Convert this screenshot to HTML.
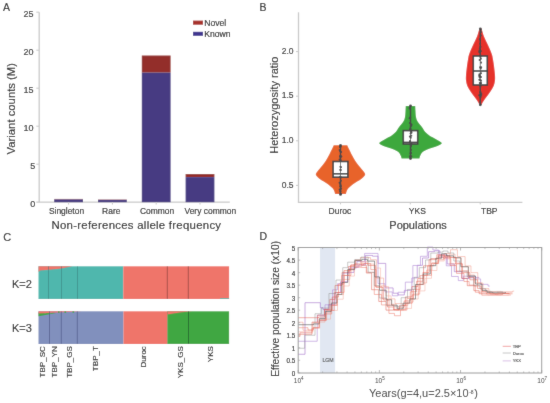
<!DOCTYPE html>
<html><head><meta charset="utf-8"><style>
html,body{margin:0;padding:0;background:#fff;width:550px;height:403px;overflow:hidden}
svg{display:block;font-family:"Liberation Sans", sans-serif}
</style></head><body>
<svg width="550" height="403" viewBox="0 0 550 403">
<defs><filter id="soft" x="0" y="0" width="550" height="403" filterUnits="userSpaceOnUse"><feConvolveMatrix order="3" kernelMatrix="0.015 0.06 0.015 0.06 0.7 0.06 0.015 0.06 0.015" edgeMode="duplicate" preserveAlpha="false"/></filter></defs>
<g filter="url(#soft)">
<rect width="550" height="403" fill="#fff"/>
<text x="3" y="11.2" font-size="10.5" text-anchor="start" fill="#141414" stroke="#141414" stroke-width="0.12" >A</text>
<line x1="39.2" y1="12.2" x2="39.2" y2="202.2" stroke="#c9c9c9" stroke-width="1.3" />
<line x1="36.3" y1="202.2" x2="229.8" y2="202.2" stroke="#c9c9c9" stroke-width="1.3" />
<line x1="36.3" y1="12.2" x2="39.2" y2="12.2" stroke="#c9c9c9" stroke-width="1" />
<line x1="36.3" y1="50.2" x2="39.2" y2="50.2" stroke="#c9c9c9" stroke-width="1" />
<line x1="36.3" y1="88.2" x2="39.2" y2="88.2" stroke="#c9c9c9" stroke-width="1" />
<line x1="36.3" y1="126.2" x2="39.2" y2="126.2" stroke="#c9c9c9" stroke-width="1" />
<line x1="36.3" y1="164.2" x2="39.2" y2="164.2" stroke="#c9c9c9" stroke-width="1" />
<text x="33.6" y="16.6" font-size="9" text-anchor="end" fill="#141414" stroke="#141414" stroke-width="0.12" >25</text>
<text x="33.6" y="54.7" font-size="9" text-anchor="end" fill="#141414" stroke="#141414" stroke-width="0.12" >20</text>
<text x="33.6" y="92.7" font-size="9" text-anchor="end" fill="#141414" stroke="#141414" stroke-width="0.12" >15</text>
<text x="33.6" y="130.8" font-size="9" text-anchor="end" fill="#141414" stroke="#141414" stroke-width="0.12" >10</text>
<text x="35.3" y="168.8" font-size="9" text-anchor="end" fill="#141414" stroke="#141414" stroke-width="0.12" >5</text>
<text x="35.3" y="207.4" font-size="9" text-anchor="end" fill="#141414" stroke="#141414" stroke-width="0.12" >0</text>
<rect x="54.199999999999996" y="198.932" width="28.8" height="0.5320000000000107" fill="#932d2a" />
<rect x="54.199999999999996" y="199.464" width="28.8" height="2.73599999999999" fill="#463a82" />
<line x1="68.6" y1="202.2" x2="68.6" y2="204.6" stroke="#c9c9c9" stroke-width="1" />
<rect x="98.0" y="199.54" width="28.8" height="0.30400000000000205" fill="#932d2a" />
<rect x="98.0" y="199.844" width="28.8" height="2.3559999999999945" fill="#463a82" />
<line x1="112.4" y1="202.2" x2="112.4" y2="204.6" stroke="#c9c9c9" stroke-width="1" />
<rect x="141.79999999999998" y="55.51999999999998" width="28.8" height="17.099999999999994" fill="#932d2a" />
<rect x="141.79999999999998" y="72.61999999999998" width="28.8" height="129.58" fill="#463a82" />
<line x1="156.2" y1="202.2" x2="156.2" y2="204.6" stroke="#c9c9c9" stroke-width="1" />
<rect x="185.6" y="174.07999999999998" width="28.8" height="3.0400000000000205" fill="#932d2a" />
<rect x="185.6" y="177.12" width="28.8" height="25.079999999999984" fill="#463a82" />
<line x1="200.0" y1="202.2" x2="200.0" y2="204.6" stroke="#c9c9c9" stroke-width="1" />
<text x="48.9" y="213.5" font-size="8.45" text-anchor="start" fill="#141414" stroke="#141414" stroke-width="0.12" >Singleton</text>
<text x="102.1" y="213.5" font-size="8.45" text-anchor="start" fill="#141414" stroke="#141414" stroke-width="0.12" >Rare</text>
<text x="140.0" y="213.5" font-size="8.45" text-anchor="start" fill="#141414" stroke="#141414" stroke-width="0.12" >Common</text>
<text x="184.5" y="213.5" font-size="8.45" text-anchor="start" fill="#141414" stroke="#141414" stroke-width="0.12" >Very common</text>
<text x="51.5" y="229.1" font-size="11.4" text-anchor="start" fill="#141414" stroke="#141414" stroke-width="0.12" letter-spacing="0.27">Non-references allele frequency</text>
<text x="14.7" y="108.7" font-size="11.3" text-anchor="middle" fill="#141414" stroke="#141414" stroke-width="0.12" transform="rotate(-90 14.7 108.7)">Variant counts (M)</text>
<rect x="193" y="20.6" width="10" height="4.1" fill="#a8302c" />
<rect x="193" y="31.8" width="10" height="4.0" fill="#3f3590" />
<text x="204.3" y="25.7" font-size="8.6" text-anchor="start" fill="#141414" stroke="#141414" stroke-width="0.12" >Novel</text>
<text x="204.3" y="36.6" font-size="8.6" text-anchor="start" fill="#141414" stroke="#141414" stroke-width="0.12" >Known</text>
<text x="259.6" y="11.3" font-size="10.5" text-anchor="start" fill="#141414" stroke="#141414" stroke-width="0.12" >B</text>
<line x1="298.5" y1="12.3" x2="298.5" y2="202.3" stroke="#c9c9c9" stroke-width="1.3" />
<line x1="297.85" y1="202.3" x2="522.4" y2="202.3" stroke="#c9c9c9" stroke-width="1.3" />
<line x1="296" y1="51.6" x2="298.5" y2="51.6" stroke="#c9c9c9" stroke-width="1" />
<text x="293.6" y="53.800000000000004" font-size="8.5" text-anchor="end" fill="#141414" stroke="#141414" stroke-width="0.12" >2.0</text>
<line x1="296" y1="96.2" x2="298.5" y2="96.2" stroke="#c9c9c9" stroke-width="1" />
<text x="293.6" y="98.4" font-size="8.5" text-anchor="end" fill="#141414" stroke="#141414" stroke-width="0.12" >1.5</text>
<line x1="296" y1="140.8" x2="298.5" y2="140.8" stroke="#c9c9c9" stroke-width="1" />
<text x="293.6" y="143.0" font-size="8.5" text-anchor="end" fill="#141414" stroke="#141414" stroke-width="0.12" >1.0</text>
<line x1="296" y1="185.4" x2="298.5" y2="185.4" stroke="#c9c9c9" stroke-width="1" />
<text x="293.6" y="187.6" font-size="8.5" text-anchor="end" fill="#141414" stroke="#141414" stroke-width="0.12" >0.5</text>
<line x1="340.5" y1="202.3" x2="340.5" y2="204.4" stroke="#c9c9c9" stroke-width="1" />
<line x1="410.3" y1="202.3" x2="410.3" y2="204.4" stroke="#c9c9c9" stroke-width="1" />
<line x1="480.2" y1="202.3" x2="480.2" y2="204.4" stroke="#c9c9c9" stroke-width="1" />
<text x="328.6" y="214.1" font-size="8.5" text-anchor="start" fill="#141414" stroke="#141414" stroke-width="0.12" >Duroc</text>
<text x="408.8" y="214.1" font-size="8.5" text-anchor="start" fill="#141414" stroke="#141414" stroke-width="0.12" >YKS</text>
<text x="481.0" y="214.1" font-size="8.5" text-anchor="start" fill="#141414" stroke="#141414" stroke-width="0.12" >TBP</text>
<text x="389.3" y="229.2" font-size="11" text-anchor="start" fill="#141414" stroke="#141414" stroke-width="0.12" >Populations</text>
<text x="278.3" y="105.2" font-size="11" text-anchor="middle" fill="#141414" stroke="#141414" stroke-width="0.12" transform="rotate(-90 278.3 105.2)">Heterozygosity ratio</text>
<path d="M 333.80 145.20 C 333.50 145.82 332.80 147.28 332.00 148.90 C 331.20 150.52 330.07 152.90 329.00 154.90 C 327.93 156.90 326.90 158.92 325.60 160.90 C 324.30 162.88 322.55 165.07 321.20 166.80 C 319.85 168.53 318.38 169.93 317.50 171.30 C 316.62 172.67 315.42 173.63 315.90 175.00 C 316.38 176.37 318.65 178.13 320.40 179.50 C 322.15 180.87 324.47 181.83 326.40 183.20 C 328.33 184.57 330.72 186.45 332.00 187.70 C 333.28 188.95 333.58 189.65 334.10 190.70 C 334.62 191.75 334.93 193.45 335.10 194.00 L  345.90 194.00 C 346.07 193.45 346.38 191.75 346.90 190.70 C 347.42 189.65 347.72 188.95 349.00 187.70 C 350.28 186.45 352.67 184.57 354.60 183.20 C 356.53 181.83 358.85 180.87 360.60 179.50 C 362.35 178.13 364.62 176.37 365.10 175.00 C 365.58 173.63 364.38 172.67 363.50 171.30 C 362.62 169.93 361.15 168.53 359.80 166.80 C 358.45 165.07 356.70 162.88 355.40 160.90 C 354.10 158.92 353.07 156.90 352.00 154.90 C 350.93 152.90 349.80 150.52 349.00 148.90 C 348.20 147.28 347.50 145.82 347.20 145.20 Z" fill="#e8632b"/>
<line x1="340.5" y1="145.4" x2="340.5" y2="161.5" stroke="#444" stroke-width="1.4" />
<line x1="340.5" y1="177.2" x2="340.5" y2="194.4" stroke="#444" stroke-width="1.4" />
<rect x="333.1" y="161.5" width="14.8" height="15.699999999999989" fill="#fff" stroke="#444" stroke-width="1.6"/>
<line x1="333.1" y1="173.8" x2="347.9" y2="173.8" stroke="#444" stroke-width="1.6" />
<line x1="340.5" y1="161.5" x2="340.5" y2="177.2" stroke="#555" stroke-width="0.8" />
<circle cx="341.13" cy="151.98" r="1.05" fill="#4a4a4a"/>
<circle cx="340.06" cy="182.82" r="1.05" fill="#4a4a4a"/>
<circle cx="340.41" cy="169.68" r="1.05" fill="#4a4a4a"/>
<circle cx="341.02" cy="177.33" r="1.05" fill="#4a4a4a"/>
<circle cx="339.65" cy="150.00" r="1.05" fill="#4a4a4a"/>
<circle cx="340.38" cy="186.35" r="1.05" fill="#4a4a4a"/>
<circle cx="339.60" cy="182.75" r="1.05" fill="#4a4a4a"/>
<circle cx="340.90" cy="167.22" r="1.05" fill="#4a4a4a"/>
<circle cx="341.30" cy="156.61" r="1.05" fill="#4a4a4a"/>
<circle cx="339.66" cy="189.57" r="1.05" fill="#4a4a4a"/>
<circle cx="340.57" cy="146.65" r="1.05" fill="#4a4a4a"/>
<circle cx="340.29" cy="191.42" r="1.05" fill="#4a4a4a"/>
<circle cx="340.36" cy="156.01" r="1.05" fill="#4a4a4a"/>
<circle cx="340.00" cy="146.82" r="1.05" fill="#4a4a4a"/>
<circle cx="340.49" cy="166.86" r="1.05" fill="#4a4a4a"/>
<circle cx="340.02" cy="156.82" r="1.05" fill="#4a4a4a"/>
<circle cx="340.43" cy="156.12" r="1.05" fill="#4a4a4a"/>
<circle cx="339.64" cy="159.60" r="1.05" fill="#4a4a4a"/>
<circle cx="340.60" cy="186.44" r="1.05" fill="#4a4a4a"/>
<circle cx="339.93" cy="176.87" r="1.05" fill="#4a4a4a"/>
<circle cx="341.15" cy="194.03" r="1.05" fill="#4a4a4a"/>
<circle cx="340.20" cy="151.32" r="1.05" fill="#4a4a4a"/>
<circle cx="340.88" cy="180.75" r="1.05" fill="#4a4a4a"/>
<circle cx="340.36" cy="191.29" r="1.05" fill="#4a4a4a"/>
<circle cx="340.81" cy="186.07" r="1.05" fill="#4a4a4a"/>
<circle cx="340.66" cy="160.27" r="1.05" fill="#4a4a4a"/>
<circle cx="341.12" cy="188.64" r="1.05" fill="#4a4a4a"/>
<circle cx="340.66" cy="170.16" r="1.05" fill="#4a4a4a"/>
<circle cx="340.04" cy="147.09" r="1.05" fill="#4a4a4a"/>
<circle cx="340.35" cy="184.47" r="1.05" fill="#4a4a4a"/>
<circle cx="340.5" cy="145.4" r="1.4" fill="#444"/>
<circle cx="340.5" cy="194.4" r="1.4" fill="#444"/>
<path d="M 405.80 106.00 C 405.75 106.82 405.63 109.08 405.50 110.90 C 405.37 112.72 405.33 115.17 405.00 116.90 C 404.67 118.63 404.12 120.07 403.50 121.30 C 402.88 122.53 402.17 123.18 401.30 124.30 C 400.43 125.42 399.20 126.75 398.30 128.00 C 397.40 129.25 397.02 130.55 395.90 131.80 C 394.78 133.05 393.43 134.27 391.60 135.50 C 389.77 136.73 386.97 137.95 384.90 139.20 C 382.83 140.45 379.45 141.88 379.20 143.00 C 378.95 144.12 381.20 144.92 383.40 145.90 C 385.60 146.88 389.92 147.90 392.40 148.90 C 394.88 149.90 396.93 150.78 398.30 151.90 C 399.67 153.02 400.05 154.50 400.60 155.60 C 401.15 156.70 401.43 158.02 401.60 158.50 L  419.40 158.50 C 419.57 158.02 419.85 156.70 420.40 155.60 C 420.95 154.50 421.33 153.02 422.70 151.90 C 424.07 150.78 426.12 149.90 428.60 148.90 C 431.08 147.90 435.40 146.88 437.60 145.90 C 439.80 144.92 442.05 144.12 441.80 143.00 C 441.55 141.88 438.17 140.45 436.10 139.20 C 434.03 137.95 431.23 136.73 429.40 135.50 C 427.57 134.27 426.22 133.05 425.10 131.80 C 423.98 130.55 423.60 129.25 422.70 128.00 C 421.80 126.75 420.57 125.42 419.70 124.30 C 418.83 123.18 418.12 122.53 417.50 121.30 C 416.88 120.07 416.33 118.63 416.00 116.90 C 415.67 115.17 415.63 112.72 415.50 110.90 C 415.37 109.08 415.25 106.82 415.20 106.00 Z" fill="#3ea83c"/>
<line x1="410.5" y1="105.8" x2="410.5" y2="130.6" stroke="#444" stroke-width="1.4" />
<line x1="410.5" y1="144.0" x2="410.5" y2="158.6" stroke="#444" stroke-width="1.4" />
<rect x="403.3" y="130.6" width="14.4" height="13.400000000000006" fill="#fff" stroke="#444" stroke-width="1.6"/>
<line x1="403.3" y1="142.4" x2="417.7" y2="142.4" stroke="#444" stroke-width="1.6" />
<line x1="410.5" y1="130.6" x2="410.5" y2="144.0" stroke="#555" stroke-width="0.8" />
<circle cx="411.31" cy="156.28" r="1.05" fill="#4a4a4a"/>
<circle cx="409.75" cy="108.79" r="1.05" fill="#4a4a4a"/>
<circle cx="410.92" cy="149.91" r="1.05" fill="#4a4a4a"/>
<circle cx="410.15" cy="141.16" r="1.05" fill="#4a4a4a"/>
<circle cx="410.69" cy="137.79" r="1.05" fill="#4a4a4a"/>
<circle cx="409.89" cy="136.49" r="1.05" fill="#4a4a4a"/>
<circle cx="410.31" cy="128.54" r="1.05" fill="#4a4a4a"/>
<circle cx="411.39" cy="143.98" r="1.05" fill="#4a4a4a"/>
<circle cx="410.58" cy="155.93" r="1.05" fill="#4a4a4a"/>
<circle cx="410.08" cy="129.29" r="1.05" fill="#4a4a4a"/>
<circle cx="409.65" cy="107.70" r="1.05" fill="#4a4a4a"/>
<circle cx="410.17" cy="130.35" r="1.05" fill="#4a4a4a"/>
<circle cx="411.21" cy="125.86" r="1.05" fill="#4a4a4a"/>
<circle cx="410.61" cy="133.56" r="1.05" fill="#4a4a4a"/>
<circle cx="409.64" cy="118.27" r="1.05" fill="#4a4a4a"/>
<circle cx="409.85" cy="122.97" r="1.05" fill="#4a4a4a"/>
<circle cx="411.40" cy="132.74" r="1.05" fill="#4a4a4a"/>
<circle cx="409.93" cy="141.41" r="1.05" fill="#4a4a4a"/>
<circle cx="411.03" cy="152.98" r="1.05" fill="#4a4a4a"/>
<circle cx="411.23" cy="144.58" r="1.05" fill="#4a4a4a"/>
<circle cx="411.02" cy="146.08" r="1.05" fill="#4a4a4a"/>
<circle cx="411.37" cy="124.48" r="1.05" fill="#4a4a4a"/>
<circle cx="409.89" cy="156.59" r="1.05" fill="#4a4a4a"/>
<circle cx="410.89" cy="145.61" r="1.05" fill="#4a4a4a"/>
<circle cx="410.55" cy="130.16" r="1.05" fill="#4a4a4a"/>
<circle cx="411.26" cy="131.67" r="1.05" fill="#4a4a4a"/>
<circle cx="411.10" cy="132.24" r="1.05" fill="#4a4a4a"/>
<circle cx="411.19" cy="124.49" r="1.05" fill="#4a4a4a"/>
<circle cx="410.43" cy="153.30" r="1.05" fill="#4a4a4a"/>
<circle cx="411.26" cy="135.77" r="1.05" fill="#4a4a4a"/>
<circle cx="410.48" cy="144.02" r="1.05" fill="#4a4a4a"/>
<circle cx="410.18" cy="117.51" r="1.05" fill="#4a4a4a"/>
<circle cx="410.5" cy="105.8" r="1.4" fill="#444"/>
<circle cx="410.5" cy="158.6" r="1.4" fill="#444"/>
<path d="M 479.50 28.30 C 479.08 29.67 478.08 33.73 477.00 36.50 C 475.92 39.27 474.28 42.03 473.00 44.90 C 471.72 47.77 470.12 51.40 469.30 53.70 C 468.48 56.00 468.48 56.68 468.10 58.70 C 467.72 60.72 467.35 63.10 467.00 65.80 C 466.65 68.50 466.17 72.47 466.00 74.90 C 465.83 77.33 465.78 78.57 466.00 80.40 C 466.22 82.23 466.55 84.07 467.30 85.90 C 468.05 87.73 469.33 89.58 470.50 91.40 C 471.67 93.22 473.13 95.17 474.30 96.80 C 475.47 98.43 476.60 99.83 477.50 101.20 C 478.40 102.57 479.33 104.37 479.70 105.00 L  481.30 105.00 C 481.67 104.37 482.60 102.57 483.50 101.20 C 484.40 99.83 485.53 98.43 486.70 96.80 C 487.87 95.17 489.33 93.22 490.50 91.40 C 491.67 89.58 492.95 87.73 493.70 85.90 C 494.45 84.07 494.78 82.23 495.00 80.40 C 495.22 78.57 495.17 77.33 495.00 74.90 C 494.83 72.47 494.35 68.50 494.00 65.80 C 493.65 63.10 493.28 60.72 492.90 58.70 C 492.52 56.68 492.52 56.00 491.70 53.70 C 490.88 51.40 489.28 47.77 488.00 44.90 C 486.72 42.03 485.08 39.27 484.00 36.50 C 482.92 33.73 481.92 29.67 481.50 28.30 Z" fill="#e6302a"/>
<line x1="480.3" y1="28.8" x2="480.3" y2="56.0" stroke="#444" stroke-width="1.4" />
<line x1="480.3" y1="85.0" x2="480.3" y2="104.8" stroke="#444" stroke-width="1.4" />
<rect x="473.3" y="56.0" width="14.0" height="29.0" fill="#fff" stroke="#444" stroke-width="1.6"/>
<line x1="473.3" y1="71.0" x2="487.3" y2="71.0" stroke="#444" stroke-width="1.6" />
<line x1="480.3" y1="56.0" x2="480.3" y2="85.0" stroke="#555" stroke-width="0.8" />
<circle cx="480.38" cy="46.89" r="1.05" fill="#4a4a4a"/>
<circle cx="480.49" cy="56.92" r="1.05" fill="#4a4a4a"/>
<circle cx="479.52" cy="76.35" r="1.05" fill="#4a4a4a"/>
<circle cx="480.91" cy="29.80" r="1.05" fill="#4a4a4a"/>
<circle cx="479.82" cy="48.51" r="1.05" fill="#4a4a4a"/>
<circle cx="480.25" cy="104.47" r="1.05" fill="#4a4a4a"/>
<circle cx="480.26" cy="92.37" r="1.05" fill="#4a4a4a"/>
<circle cx="479.67" cy="77.37" r="1.05" fill="#4a4a4a"/>
<circle cx="480.96" cy="77.05" r="1.05" fill="#4a4a4a"/>
<circle cx="480.73" cy="68.56" r="1.05" fill="#4a4a4a"/>
<circle cx="479.52" cy="79.83" r="1.05" fill="#4a4a4a"/>
<circle cx="480.46" cy="86.43" r="1.05" fill="#4a4a4a"/>
<circle cx="479.46" cy="51.70" r="1.05" fill="#4a4a4a"/>
<circle cx="480.25" cy="94.58" r="1.05" fill="#4a4a4a"/>
<circle cx="480.98" cy="83.43" r="1.05" fill="#4a4a4a"/>
<circle cx="481.06" cy="83.07" r="1.05" fill="#4a4a4a"/>
<circle cx="480.84" cy="58.82" r="1.05" fill="#4a4a4a"/>
<circle cx="481.08" cy="62.59" r="1.05" fill="#4a4a4a"/>
<circle cx="479.58" cy="95.59" r="1.05" fill="#4a4a4a"/>
<circle cx="479.79" cy="39.13" r="1.05" fill="#4a4a4a"/>
<circle cx="480.19" cy="102.18" r="1.05" fill="#4a4a4a"/>
<circle cx="479.94" cy="76.43" r="1.05" fill="#4a4a4a"/>
<circle cx="480.09" cy="67.35" r="1.05" fill="#4a4a4a"/>
<circle cx="480.45" cy="55.47" r="1.05" fill="#4a4a4a"/>
<circle cx="481.03" cy="73.20" r="1.05" fill="#4a4a4a"/>
<circle cx="481.07" cy="80.63" r="1.05" fill="#4a4a4a"/>
<circle cx="481.18" cy="93.89" r="1.05" fill="#4a4a4a"/>
<circle cx="479.69" cy="79.82" r="1.05" fill="#4a4a4a"/>
<circle cx="481.14" cy="94.21" r="1.05" fill="#4a4a4a"/>
<circle cx="480.42" cy="97.56" r="1.05" fill="#4a4a4a"/>
<circle cx="479.78" cy="83.05" r="1.05" fill="#4a4a4a"/>
<circle cx="480.43" cy="92.00" r="1.05" fill="#4a4a4a"/>
<circle cx="479.51" cy="50.46" r="1.05" fill="#4a4a4a"/>
<circle cx="481.18" cy="93.70" r="1.05" fill="#4a4a4a"/>
<circle cx="480.84" cy="35.53" r="1.05" fill="#4a4a4a"/>
<circle cx="479.67" cy="60.00" r="1.05" fill="#4a4a4a"/>
<circle cx="480.78" cy="51.14" r="1.05" fill="#4a4a4a"/>
<circle cx="479.48" cy="95.13" r="1.05" fill="#4a4a4a"/>
<circle cx="479.48" cy="75.50" r="1.05" fill="#4a4a4a"/>
<circle cx="480.00" cy="83.40" r="1.05" fill="#4a4a4a"/>
<circle cx="481.17" cy="95.75" r="1.05" fill="#4a4a4a"/>
<circle cx="481.20" cy="67.21" r="1.05" fill="#4a4a4a"/>
<circle cx="479.54" cy="52.33" r="1.05" fill="#4a4a4a"/>
<circle cx="479.46" cy="74.38" r="1.05" fill="#4a4a4a"/>
<circle cx="480.13" cy="43.80" r="1.05" fill="#4a4a4a"/>
<circle cx="479.68" cy="75.20" r="1.05" fill="#4a4a4a"/>
<circle cx="480.96" cy="32.03" r="1.05" fill="#4a4a4a"/>
<circle cx="480.3" cy="28.8" r="1.4" fill="#444"/>
<circle cx="480.3" cy="104.8" r="1.4" fill="#444"/>
<text x="3.3" y="240.6" font-size="11" text-anchor="start" fill="#141414" stroke="#141414" stroke-width="0.12" >C</text>
<rect x="38.5" y="266.3" width="84.8" height="32.7" fill="#4fb7ad" />
<rect x="123.3" y="266.3" width="105.8" height="32.7" fill="#ef746b" />
<path d="M 38.5 266.3 L 72.5 266.3 L 66 267.6 L 61.5 268.4 L 48.7 269.7 L 40 270.5 L 38.5 272 Z" fill="#ef746b"/>
<rect x="220" y="298.2" width="9.1" height="0.8" fill="#4fb7ad" />
<line x1="48.4" y1="266.3" x2="48.4" y2="299" stroke="#2f6a6a" stroke-width="0.8" opacity="0.55"/>
<line x1="61.6" y1="266.3" x2="61.6" y2="299" stroke="#2f6a6a" stroke-width="0.8" opacity="0.55"/>
<line x1="77.6" y1="266.3" x2="77.6" y2="299" stroke="#2f6a6a" stroke-width="0.8" opacity="0.55"/>
<line x1="167.3" y1="266.3" x2="167.3" y2="299" stroke="#7a3a36" stroke-width="0.8" opacity="0.75"/>
<line x1="188.3" y1="266.3" x2="188.3" y2="299" stroke="#7a3a36" stroke-width="0.8" opacity="0.75"/>
<text x="12.0" y="288.3" font-size="11" text-anchor="start" fill="#141414" stroke="#141414" stroke-width="0.12" >K=2</text>
<rect x="38.5" y="311.3" width="85.0" height="32.7" fill="#8190bd" />
<rect x="123.5" y="311.3" width="43.900000000000006" height="32.7" fill="#ef746b" />
<rect x="167.4" y="311.3" width="61.69999999999999" height="32.7" fill="#40a742" />
<path d="M 38.5 312.6 L 41 313 L 43 312.4 L 45 313.6 L 47 312.6 L 50 313.4 L 53 312.5 L 56 312.9 L 60 312.3 L 48 314.4 L 38.5 316.3 Z" fill="#40a742"/>
<path d="M 38.5 311.3 L 82 311.3 C 70 311.9 55 312.5 38.5 313.6 Z" fill="#ef746b"/>
<rect x="64.5" y="311.3" width="1.6" height="1.5" fill="#40a742" />
<rect x="72.5" y="311.3" width="1.6" height="1.4" fill="#40a742" />
<rect x="58" y="311.3" width="1.5" height="1.5" fill="#40a742" />
<path d="M 167.4 311.3 L 192.7 311.3 C 185 311.7 175 313 167.4 314.6 Z" fill="#ef746b"/>
<line x1="49.5" y1="311.3" x2="49.5" y2="344" stroke="#3a4270" stroke-width="0.8" opacity="0.6"/>
<line x1="61.3" y1="311.3" x2="61.3" y2="344" stroke="#3a4270" stroke-width="0.8" opacity="0.6"/>
<line x1="77.3" y1="311.3" x2="77.3" y2="344" stroke="#3a4270" stroke-width="0.8" opacity="0.6"/>
<line x1="188.5" y1="311.3" x2="188.5" y2="344" stroke="#1f4a24" stroke-width="0.8" opacity="0.75"/>
<line x1="167.4" y1="311.3" x2="167.4" y2="344" stroke="#7a5a40" stroke-width="0.5" opacity="0.5"/>
<text x="12.0" y="332.0" font-size="11" text-anchor="start" fill="#141414" stroke="#141414" stroke-width="0.12" >K=3</text>
<text x="45.5" y="346.1" font-size="8.05" text-anchor="end" fill="#141414" stroke="#141414" stroke-width="0.12" transform="rotate(-90 45.5 346.1)">TBP_SC</text>
<text x="56.7" y="346.1" font-size="8.05" text-anchor="end" fill="#141414" stroke="#141414" stroke-width="0.12" transform="rotate(-90 56.7 346.1)">TBP_YN</text>
<text x="72.1" y="346.1" font-size="8.05" text-anchor="end" fill="#141414" stroke="#141414" stroke-width="0.12" transform="rotate(-90 72.1 346.1)">TBP_GS</text>
<text x="98.3" y="346.1" font-size="8.05" text-anchor="end" fill="#141414" stroke="#141414" stroke-width="0.12" transform="rotate(-90 98.3 346.1)">TBP_T</text>
<text x="146.5" y="346.1" font-size="8.05" text-anchor="end" fill="#141414" stroke="#141414" stroke-width="0.12" transform="rotate(-90 146.5 346.1)">Duroc</text>
<text x="183.3" y="346.1" font-size="8.05" text-anchor="end" fill="#141414" stroke="#141414" stroke-width="0.12" transform="rotate(-90 183.3 346.1)">YKS_GS</text>
<text x="213.3" y="346.1" font-size="8.05" text-anchor="end" fill="#141414" stroke="#141414" stroke-width="0.12" transform="rotate(-90 213.3 346.1)">YKS</text>
<text x="259.6" y="240.2" font-size="10.5" text-anchor="start" fill="#141414" stroke="#141414" stroke-width="0.12" >D</text>
<rect x="320" y="247.5" width="15.1" height="125.5" fill="#e1e7f2" />
<path d="M 298.20 354.27 L 305.00 354.27 L 305.00 302.69 L 320.30 302.69 L 320.30 307.70 L 323.00 307.70 L 323.00 309.54 L 328.34 309.54 L 328.34 304.75 L 335.01 304.75 L 335.01 292.55 L 340.50 292.55 L 340.50 281.71 L 347.66 281.71 L 347.66 272.43 L 353.97 272.43 L 353.97 267.10 L 358.85 267.10 L 358.85 264.94 L 365.38 264.94 L 365.38 255.43 L 372.50 255.43 L 372.50 256.19 L 378.04 256.19 L 378.04 263.39 L 385.74 263.39 L 385.74 287.93 L 393.10 287.93 L 393.10 293.21 L 398.06 293.21 L 398.06 294.93 L 404.35 294.93 L 404.35 290.35 L 411.92 290.35 L 411.92 277.93 L 417.23 277.93 L 417.23 265.30 L 422.46 265.30 L 422.46 258.00 L 428.61 258.00 L 428.61 251.67 L 434.46 251.67 L 434.46 250.83 L 439.86 250.83 L 439.86 255.00 L 447.19 255.00 L 447.19 263.98 L 454.28 263.98 L 454.28 271.70 L 461.90 271.70 L 461.90 278.50 L 468.91 278.50 L 468.91 276.23 L 475.43 276.23 L 475.43 277.40 L 479.21 277.40" fill="none" stroke="#a878cc" stroke-width="0.75" opacity="0.85" stroke-linejoin="miter"/>
<path d="M 298.20 341.25 L 317.20 341.25 L 317.20 315.21 L 325.00 315.21 L 325.00 304.78 L 332.59 304.78 L 332.59 289.84 L 337.53 289.84 L 337.53 283.68 L 342.92 283.68 L 342.92 273.15 L 349.64 273.15 L 349.64 267.77 L 357.04 267.77 L 357.04 261.54 L 364.64 261.54 L 364.64 253.38 L 371.22 253.38 L 371.22 253.41 L 378.03 253.41 L 378.03 283.70 L 384.91 283.70 L 384.91 291.92 L 392.29 291.92 L 392.29 295.77 L 398.04 295.77 L 398.04 292.26 L 405.33 292.26 L 405.33 282.15 L 412.86 282.15 L 412.86 265.47 L 420.46 265.47 L 420.46 256.28 L 427.32 256.28 L 427.32 247.04 L 432.92 247.04 L 432.92 250.02 L 438.68 250.02 L 438.68 257.15 L 446.26 257.15 L 446.26 265.80 L 451.53 265.80 L 451.53 276.47 L 458.30 276.47 L 458.30 280.58 L 463.31 280.58 L 463.31 276.20 L 468.27 276.20 L 468.27 277.83 L 474.58 277.83 L 474.58 278.93 L 480.61 278.93 L 480.61 284.35 L 488.09 284.35 L 488.09 286.08 L 489.76 286.08" fill="none" stroke="#b590d8" stroke-width="0.75" opacity="0.85" stroke-linejoin="miter"/>
<path d="M 298.20 317.71 L 318.60 317.71 L 318.60 317.03 L 324.76 317.03 L 324.76 309.71 L 332.25 309.71 L 332.25 297.04 L 338.56 297.04 L 338.56 284.11 L 343.96 284.11 L 343.96 270.58 L 350.62 270.58 L 350.62 265.07 L 355.76 265.07 L 355.76 260.51 L 360.88 260.51 L 360.88 263.21 L 367.72 263.21 L 367.72 265.42 L 375.38 265.42 L 375.38 286.65 L 382.11 286.65 L 382.11 298.86 L 387.43 298.86 L 387.43 306.97 L 393.80 306.97 L 393.80 309.82 L 399.21 309.82 L 399.21 307.30 L 404.17 307.30 L 404.17 300.91 L 410.29 300.91 L 410.29 291.77 L 416.63 291.77 L 416.63 281.27 L 422.92 281.27 L 422.92 272.46 L 429.09 272.46 L 429.09 259.63 L 436.80 259.63 L 436.80 254.74 L 444.06 254.74 L 444.06 255.35 L 449.82 255.35 L 449.82 257.15 L 455.51 257.15 L 455.51 263.83 L 462.56 263.83 L 462.56 272.65 L 469.84 272.65 L 469.84 279.79 L 477.43 279.79 L 477.43 288.36 L 482.30 288.36 L 482.30 291.80 L 489.76 291.80 L 489.76 293.33 L 497.41 293.33 L 497.41 292.82 L 502.49 292.82 L 502.49 293.27 L 509.57 293.27 L 509.57 293.05 L 512.49 293.05" fill="none" stroke="#e4503e" stroke-width="0.75" opacity="0.62" stroke-linejoin="miter"/>
<path d="M 298.20 322.22 L 303.00 322.22 L 303.00 330.23 L 313.00 330.23 L 313.00 322.80 L 319.22 322.80 L 319.22 319.35 L 325.98 319.35 L 325.98 312.79 L 330.88 312.79 L 330.88 304.94 L 336.53 304.94 L 336.53 294.58 L 343.36 294.58 L 343.36 279.43 L 349.82 279.43 L 349.82 268.46 L 355.10 268.46 L 355.10 259.79 L 360.43 259.79 L 360.43 257.58 L 365.47 257.58 L 365.47 257.62 L 370.55 257.62 L 370.55 259.73 L 376.38 259.73 L 376.38 278.07 L 383.64 278.07 L 383.64 286.76 L 388.69 286.76 L 388.69 298.86 L 395.00 298.86 L 395.00 303.54 L 402.68 303.54 L 402.68 305.38 L 407.87 305.38 L 407.87 302.07 L 413.12 302.07 L 413.12 293.93 L 419.76 293.93 L 419.76 282.98 L 426.61 282.98 L 426.61 270.09 L 431.96 270.09 L 431.96 262.83 L 437.97 262.83 L 437.97 255.53 L 444.54 255.53 L 444.54 253.47 L 450.50 253.47 L 450.50 249.72 L 457.43 249.72 L 457.43 256.58 L 465.08 256.58 L 465.08 265.91 L 470.96 265.91 L 470.96 272.68 L 477.79 272.68 L 477.79 283.13 L 482.98 283.13 L 482.98 288.60 L 488.88 288.60 L 488.88 291.46 L 496.06 291.46 L 496.06 291.38 L 501.01 291.38 L 501.01 291.75 L 507.10 291.75 L 507.10 291.78 L 512.60 291.78 L 512.60 291.11 L 514.11 291.11" fill="none" stroke="#f08a7a" stroke-width="0.75" opacity="0.62" stroke-linejoin="miter"/>
<path d="M 298.20 334.24 L 312.00 334.24 L 312.00 322.14 L 317.61 322.14 L 317.61 315.15 L 324.42 315.15 L 324.42 309.16 L 329.82 309.16 L 329.82 299.38 L 335.11 299.38 L 335.11 285.41 L 342.06 285.41 L 342.06 272.39 L 348.44 272.39 L 348.44 266.49 L 354.15 266.49 L 354.15 263.94 L 361.40 263.94 L 361.40 265.27 L 366.31 265.27 L 366.31 273.04 L 371.60 273.04 L 371.60 289.72 L 378.77 289.72 L 378.77 301.44 L 385.98 301.44 L 385.98 310.14 L 393.55 310.14 L 393.55 309.68 L 399.15 309.68 L 399.15 305.64 L 405.40 305.64 L 405.40 296.96 L 411.88 296.96 L 411.88 286.59 L 417.78 286.59 L 417.78 278.36 L 423.54 278.36 L 423.54 265.81 L 430.74 265.81 L 430.74 258.60 L 438.41 258.60 L 438.41 256.08 L 444.86 256.08 L 444.86 257.27 L 450.11 257.27 L 450.11 265.57 L 456.24 265.57 L 456.24 271.13 L 461.69 271.13 L 461.69 278.33 L 467.28 278.33 L 467.28 285.70 L 473.87 285.70 L 473.87 290.66 L 479.11 290.66 L 479.11 293.70 L 484.65 293.70 L 484.65 293.81 L 490.07 293.81 L 490.07 294.11 L 495.15 294.11 L 495.15 294.40 L 502.73 294.40 L 502.73 293.38 L 509.24 293.38" fill="none" stroke="#d94a3a" stroke-width="0.75" opacity="0.62" stroke-linejoin="miter"/>
<path d="M 298.20 331.73 L 313.00 331.73 L 313.00 327.91 L 318.17 327.91 L 318.17 322.15 L 324.90 322.15 L 324.90 319.17 L 330.54 319.17 L 330.54 310.39 L 337.49 310.39 L 337.49 299.23 L 343.22 299.23 L 343.22 285.99 L 349.22 285.99 L 349.22 276.10 L 354.43 276.10 L 354.43 266.46 L 361.86 266.46 L 361.86 261.45 L 367.47 261.45 L 367.47 264.03 L 374.13 264.03 L 374.13 268.07 L 380.57 268.07 L 380.57 285.73 L 385.91 285.73 L 385.91 295.91 L 391.13 295.91 L 391.13 304.20 L 396.23 304.20 L 396.23 310.05 L 403.88 310.05 L 403.88 308.40 L 411.57 308.40 L 411.57 299.03 L 418.16 299.03 L 418.16 290.90 L 424.98 290.90 L 424.98 278.29 L 431.53 278.29 L 431.53 270.51 L 436.91 270.51 L 436.91 261.00 L 444.27 261.00 L 444.27 256.63 L 449.69 256.63 L 449.69 254.29 L 455.18 254.29 L 455.18 258.24 L 461.47 258.24 L 461.47 266.75 L 468.67 266.75 L 468.67 274.85 L 474.33 274.85 L 474.33 282.62 L 481.31 282.62 L 481.31 290.10 L 487.67 290.10 L 487.67 292.45 L 493.91 292.45 L 493.91 293.71 L 500.30 293.71 L 500.30 293.61 L 506.54 293.61 L 506.54 294.02 L 512.49 294.02" fill="none" stroke="#f4a494" stroke-width="0.75" opacity="0.62" stroke-linejoin="miter"/>
<path d="M 298.20 336.49 L 300.00 336.49 L 300.00 332.74 L 312.00 332.74 L 312.00 328.16 L 319.61 328.16 L 319.61 320.33 L 326.57 320.33 L 326.57 310.46 L 334.25 310.46 L 334.25 292.45 L 341.61 292.45 L 341.61 275.45 L 348.92 275.45 L 348.92 269.87 L 354.47 269.87 L 354.47 267.26 L 361.35 267.26 L 361.35 267.47 L 366.97 267.47 L 366.97 272.30 L 374.28 272.30 L 374.28 294.45 L 381.42 294.45 L 381.42 304.91 L 388.91 304.91 L 388.91 313.41 L 394.44 313.41 L 394.44 315.72 L 400.50 315.72 L 400.50 310.08 L 406.98 310.08 L 406.98 298.45 L 413.47 298.45 L 413.47 289.38 L 420.17 289.38 L 420.17 275.56 L 427.49 275.56 L 427.49 265.79 L 433.76 265.79 L 433.76 263.54 L 438.68 263.54 L 438.68 257.70 L 444.04 257.70 L 444.04 258.73 L 450.87 258.73 L 450.87 263.92 L 456.56 263.92 L 456.56 273.45 L 463.95 273.45 L 463.95 281.52 L 469.15 281.52 L 469.15 285.09 L 475.35 285.09 L 475.35 292.26 L 481.80 292.26 L 481.80 295.18 L 488.09 295.18 L 488.09 295.31 L 495.66 295.31 L 495.66 295.35 L 501.19 295.35 L 501.19 295.21 L 508.41 295.21 L 508.41 295.03 L 510.87 295.03" fill="none" stroke="#ec6a58" stroke-width="0.75" opacity="0.62" stroke-linejoin="miter"/>
<path d="M 298.20 324.72 L 313.40 324.72 L 313.40 323.95 L 319.30 323.95 L 319.30 318.64 L 325.35 318.64 L 325.35 311.41 L 331.39 311.41 L 331.39 302.99 L 336.99 302.99 L 336.99 294.43 L 341.89 294.43 L 341.89 282.51 L 347.71 282.51 L 347.71 269.44 L 354.69 269.44 L 354.69 260.65 L 361.81 260.65 L 361.81 259.29 L 367.40 259.29 L 367.40 261.10 L 374.56 261.10 L 374.56 276.88 L 379.51 276.88 L 379.51 290.23 L 386.16 290.23 L 386.16 299.74 L 391.67 299.74 L 391.67 305.21 L 397.27 305.21 L 397.27 308.81 L 403.13 308.81 L 403.13 303.16 L 409.83 303.16 L 409.83 298.96 L 415.53 298.96 L 415.53 284.51 L 423.17 284.51 L 423.17 273.98 L 430.28 273.98 L 430.28 265.68 L 435.82 265.68 L 435.82 258.22 L 441.55 258.22 L 441.55 253.73 L 446.61 253.73 L 446.61 255.83 L 453.55 255.83 L 453.55 257.65 L 460.81 257.65 L 460.81 266.73 L 468.29 266.73 L 468.29 275.97 L 475.42 275.97 L 475.42 284.03 L 482.04 284.03 L 482.04 290.36 L 486.97 290.36 L 486.97 292.25 L 492.50 292.25 L 492.50 292.88 L 498.42 292.88 L 498.42 292.97 L 505.16 292.97 L 505.16 292.67 L 506.00 292.67" fill="none" stroke="#5a5a5a" stroke-width="0.75" opacity="0.85" stroke-linejoin="miter"/>
<path d="M 298.20 348.26 L 304.70 348.26 L 304.70 335.24 L 315.00 335.24 L 315.00 313.77 L 321.35 313.77 L 321.35 308.03 L 328.95 308.03 L 328.95 293.49 L 336.00 293.49 L 336.00 280.03 L 342.75 280.03 L 342.75 267.66 L 347.69 267.66 L 347.69 262.15 L 354.69 262.15 L 354.69 259.60 L 360.98 259.60 L 360.98 257.08 L 368.26 257.08 L 368.26 272.37 L 374.27 272.37 L 374.27 285.54 L 379.31 285.54 L 379.31 298.01 L 386.67 298.01 L 386.67 305.49 L 393.54 305.49 L 393.54 306.61 L 401.13 306.61 L 401.13 297.71 L 407.53 297.71 L 407.53 289.44 L 414.22 289.44 L 414.22 277.29 L 419.32 277.29 L 419.32 267.66 L 425.54 267.66 L 425.54 259.95 L 430.81 259.95 L 430.81 253.08 L 437.99 253.08 L 437.99 252.14 L 442.91 252.14 L 442.91 251.02 L 447.93 251.02 L 447.93 252.96 L 453.81 252.96 L 453.81 261.01 L 459.74 261.01 L 459.74 271.32 L 467.08 271.32 L 467.08 276.76 L 473.53 276.76 L 473.53 285.58 L 479.90 285.58 L 479.90 288.67 L 485.53 288.67 L 485.53 291.29 L 490.94 291.29 L 490.94 292.03 L 497.39 292.03 L 497.39 291.75 L 502.63 291.75 L 502.63 292.16 L 502.75 292.16" fill="none" stroke="#8a8a8a" stroke-width="0.75" opacity="0.62" stroke-linejoin="miter"/>
<path d="M 298.20 327.73 L 308.00 327.73 L 308.00 329.97 L 313.39 329.97 L 313.39 327.47 L 319.21 327.47 L 319.21 320.69 L 325.47 320.69 L 325.47 314.03 L 331.70 314.03 L 331.70 305.46 L 337.32 305.46 L 337.32 292.40 L 344.16 292.40 L 344.16 275.46 L 350.94 275.46 L 350.94 265.10 L 358.28 265.10 L 358.28 264.93 L 363.81 264.93 L 363.81 263.57 L 370.77 263.57 L 370.77 269.60 L 376.21 269.60 L 376.21 287.45 L 383.56 287.45 L 383.56 300.09 L 389.05 300.09 L 389.05 304.93 L 393.94 304.93 L 393.94 310.12 L 399.43 310.12 L 399.43 309.77 L 405.83 309.77 L 405.83 303.23 L 412.20 303.23 L 412.20 294.93 L 418.77 294.93 L 418.77 284.57 L 423.97 284.57 L 423.97 275.35 L 431.46 275.35 L 431.46 263.32 L 438.28 263.32 L 438.28 259.74 L 443.60 259.74 L 443.60 256.78 L 450.42 256.78 L 450.42 257.60 L 456.45 257.60 L 456.45 263.16 L 461.60 263.16 L 461.60 270.86 L 468.15 270.86 L 468.15 277.56 L 473.98 277.56 L 473.98 286.03 L 481.19 286.03 L 481.19 291.87 L 486.31 291.87 L 486.31 293.88 L 491.62 293.88 L 491.62 294.08 L 498.33 294.08 L 498.33 293.36 L 503.78 293.36 L 503.78 293.43 L 509.24 293.43" fill="none" stroke="#e86a5a" stroke-width="0.75" opacity="0.62" stroke-linejoin="miter"/>
<rect x="298.2" y="247.5" width="243.50000000000006" height="125.5" fill="none" stroke="#9a9a9a" stroke-width="1"/>
<line x1="298.2" y1="372.8" x2="300.2" y2="372.8" stroke="#9a9a9a" stroke-width="0.6" />
<text x="295.3" y="375.7" font-size="6.3" text-anchor="end" fill="#141414" stroke="#141414" stroke-width="0.12" >0</text>
<line x1="298.2" y1="360.28000000000003" x2="300.2" y2="360.28000000000003" stroke="#9a9a9a" stroke-width="0.6" />
<text x="295.3" y="363.18" font-size="6.3" text-anchor="end" fill="#141414" stroke="#141414" stroke-width="0.12" >0.5</text>
<line x1="298.2" y1="347.76" x2="300.2" y2="347.76" stroke="#9a9a9a" stroke-width="0.6" />
<text x="295.3" y="350.65999999999997" font-size="6.3" text-anchor="end" fill="#141414" stroke="#141414" stroke-width="0.12" >1</text>
<line x1="298.2" y1="335.24" x2="300.2" y2="335.24" stroke="#9a9a9a" stroke-width="0.6" />
<text x="295.3" y="338.14" font-size="6.3" text-anchor="end" fill="#141414" stroke="#141414" stroke-width="0.12" >1.5</text>
<line x1="298.2" y1="322.72" x2="300.2" y2="322.72" stroke="#9a9a9a" stroke-width="0.6" />
<text x="295.3" y="325.62" font-size="6.3" text-anchor="end" fill="#141414" stroke="#141414" stroke-width="0.12" >2</text>
<line x1="298.2" y1="310.20000000000005" x2="300.2" y2="310.20000000000005" stroke="#9a9a9a" stroke-width="0.6" />
<text x="295.3" y="313.1" font-size="6.3" text-anchor="end" fill="#141414" stroke="#141414" stroke-width="0.12" >2.5</text>
<line x1="298.2" y1="297.68" x2="300.2" y2="297.68" stroke="#9a9a9a" stroke-width="0.6" />
<text x="295.3" y="300.58" font-size="6.3" text-anchor="end" fill="#141414" stroke="#141414" stroke-width="0.12" >3</text>
<line x1="298.2" y1="285.16" x2="300.2" y2="285.16" stroke="#9a9a9a" stroke-width="0.6" />
<text x="295.3" y="288.06" font-size="6.3" text-anchor="end" fill="#141414" stroke="#141414" stroke-width="0.12" >3.5</text>
<line x1="298.2" y1="272.64" x2="300.2" y2="272.64" stroke="#9a9a9a" stroke-width="0.6" />
<text x="295.3" y="275.53999999999996" font-size="6.3" text-anchor="end" fill="#141414" stroke="#141414" stroke-width="0.12" >4</text>
<line x1="298.2" y1="260.12" x2="300.2" y2="260.12" stroke="#9a9a9a" stroke-width="0.6" />
<text x="295.3" y="263.02" font-size="6.3" text-anchor="end" fill="#141414" stroke="#141414" stroke-width="0.12" >4.5</text>
<line x1="298.2" y1="247.60000000000002" x2="300.2" y2="247.60000000000002" stroke="#9a9a9a" stroke-width="0.6" />
<text x="295.3" y="250.50000000000003" font-size="6.3" text-anchor="end" fill="#141414" stroke="#141414" stroke-width="0.12" >5</text>
<line x1="322.6346047480454" y1="373.0" x2="322.6346047480454" y2="371.4" stroke="#9a9a9a" stroke-width="0.6" />
<line x1="322.6346047480454" y1="247.5" x2="322.6346047480454" y2="249.1" stroke="#9a9a9a" stroke-width="0.6" />
<line x1="336.927932245595" y1="373.0" x2="336.927932245595" y2="371.4" stroke="#9a9a9a" stroke-width="0.6" />
<line x1="336.927932245595" y1="247.5" x2="336.927932245595" y2="249.1" stroke="#9a9a9a" stroke-width="0.6" />
<line x1="347.0692094960907" y1="373.0" x2="347.0692094960907" y2="371.4" stroke="#9a9a9a" stroke-width="0.6" />
<line x1="347.0692094960907" y1="247.5" x2="347.0692094960907" y2="249.1" stroke="#9a9a9a" stroke-width="0.6" />
<line x1="354.9353952519546" y1="373.0" x2="354.9353952519546" y2="371.4" stroke="#9a9a9a" stroke-width="0.6" />
<line x1="354.9353952519546" y1="247.5" x2="354.9353952519546" y2="249.1" stroke="#9a9a9a" stroke-width="0.6" />
<line x1="361.36253699364033" y1="373.0" x2="361.36253699364033" y2="371.4" stroke="#9a9a9a" stroke-width="0.6" />
<line x1="361.36253699364033" y1="247.5" x2="361.36253699364033" y2="249.1" stroke="#9a9a9a" stroke-width="0.6" />
<line x1="366.7966079079572" y1="373.0" x2="366.7966079079572" y2="371.4" stroke="#9a9a9a" stroke-width="0.6" />
<line x1="366.7966079079572" y1="247.5" x2="366.7966079079572" y2="249.1" stroke="#9a9a9a" stroke-width="0.6" />
<line x1="371.50381424413604" y1="373.0" x2="371.50381424413604" y2="371.4" stroke="#9a9a9a" stroke-width="0.6" />
<line x1="371.50381424413604" y1="247.5" x2="371.50381424413604" y2="249.1" stroke="#9a9a9a" stroke-width="0.6" />
<line x1="375.65586449119" y1="373.0" x2="375.65586449119" y2="371.4" stroke="#9a9a9a" stroke-width="0.6" />
<line x1="375.65586449119" y1="247.5" x2="375.65586449119" y2="249.1" stroke="#9a9a9a" stroke-width="0.6" />
<line x1="403.80460474804534" y1="373.0" x2="403.80460474804534" y2="371.4" stroke="#9a9a9a" stroke-width="0.6" />
<line x1="403.80460474804534" y1="247.5" x2="403.80460474804534" y2="249.1" stroke="#9a9a9a" stroke-width="0.6" />
<line x1="418.097932245595" y1="373.0" x2="418.097932245595" y2="371.4" stroke="#9a9a9a" stroke-width="0.6" />
<line x1="418.097932245595" y1="247.5" x2="418.097932245595" y2="249.1" stroke="#9a9a9a" stroke-width="0.6" />
<line x1="428.23920949609067" y1="373.0" x2="428.23920949609067" y2="371.4" stroke="#9a9a9a" stroke-width="0.6" />
<line x1="428.23920949609067" y1="247.5" x2="428.23920949609067" y2="249.1" stroke="#9a9a9a" stroke-width="0.6" />
<line x1="436.10539525195463" y1="373.0" x2="436.10539525195463" y2="371.4" stroke="#9a9a9a" stroke-width="0.6" />
<line x1="436.10539525195463" y1="247.5" x2="436.10539525195463" y2="249.1" stroke="#9a9a9a" stroke-width="0.6" />
<line x1="442.5325369936404" y1="373.0" x2="442.5325369936404" y2="371.4" stroke="#9a9a9a" stroke-width="0.6" />
<line x1="442.5325369936404" y1="247.5" x2="442.5325369936404" y2="249.1" stroke="#9a9a9a" stroke-width="0.6" />
<line x1="447.96660790795727" y1="373.0" x2="447.96660790795727" y2="371.4" stroke="#9a9a9a" stroke-width="0.6" />
<line x1="447.96660790795727" y1="247.5" x2="447.96660790795727" y2="249.1" stroke="#9a9a9a" stroke-width="0.6" />
<line x1="452.67381424413605" y1="373.0" x2="452.67381424413605" y2="371.4" stroke="#9a9a9a" stroke-width="0.6" />
<line x1="452.67381424413605" y1="247.5" x2="452.67381424413605" y2="249.1" stroke="#9a9a9a" stroke-width="0.6" />
<line x1="456.82586449119003" y1="373.0" x2="456.82586449119003" y2="371.4" stroke="#9a9a9a" stroke-width="0.6" />
<line x1="456.82586449119003" y1="247.5" x2="456.82586449119003" y2="249.1" stroke="#9a9a9a" stroke-width="0.6" />
<line x1="484.97460474804535" y1="373.0" x2="484.97460474804535" y2="371.4" stroke="#9a9a9a" stroke-width="0.6" />
<line x1="484.97460474804535" y1="247.5" x2="484.97460474804535" y2="249.1" stroke="#9a9a9a" stroke-width="0.6" />
<line x1="499.26793224559503" y1="373.0" x2="499.26793224559503" y2="371.4" stroke="#9a9a9a" stroke-width="0.6" />
<line x1="499.26793224559503" y1="247.5" x2="499.26793224559503" y2="249.1" stroke="#9a9a9a" stroke-width="0.6" />
<line x1="509.40920949609074" y1="373.0" x2="509.40920949609074" y2="371.4" stroke="#9a9a9a" stroke-width="0.6" />
<line x1="509.40920949609074" y1="247.5" x2="509.40920949609074" y2="249.1" stroke="#9a9a9a" stroke-width="0.6" />
<line x1="517.2753952519547" y1="373.0" x2="517.2753952519547" y2="371.4" stroke="#9a9a9a" stroke-width="0.6" />
<line x1="517.2753952519547" y1="247.5" x2="517.2753952519547" y2="249.1" stroke="#9a9a9a" stroke-width="0.6" />
<line x1="523.7025369936404" y1="373.0" x2="523.7025369936404" y2="371.4" stroke="#9a9a9a" stroke-width="0.6" />
<line x1="523.7025369936404" y1="247.5" x2="523.7025369936404" y2="249.1" stroke="#9a9a9a" stroke-width="0.6" />
<line x1="529.1366079079572" y1="373.0" x2="529.1366079079572" y2="371.4" stroke="#9a9a9a" stroke-width="0.6" />
<line x1="529.1366079079572" y1="247.5" x2="529.1366079079572" y2="249.1" stroke="#9a9a9a" stroke-width="0.6" />
<line x1="533.8438142441361" y1="373.0" x2="533.8438142441361" y2="371.4" stroke="#9a9a9a" stroke-width="0.6" />
<line x1="533.8438142441361" y1="247.5" x2="533.8438142441361" y2="249.1" stroke="#9a9a9a" stroke-width="0.6" />
<line x1="537.99586449119" y1="373.0" x2="537.99586449119" y2="371.4" stroke="#9a9a9a" stroke-width="0.6" />
<line x1="537.99586449119" y1="247.5" x2="537.99586449119" y2="249.1" stroke="#9a9a9a" stroke-width="0.6" />
<line x1="298.2" y1="373.0" x2="298.2" y2="370.0" stroke="#9a9a9a" stroke-width="0.7" />
<line x1="298.2" y1="247.5" x2="298.2" y2="250.5" stroke="#9a9a9a" stroke-width="0.7" />
<text x="298.7" y="382.9" font-size="6.5" text-anchor="middle" fill="#333">10<tspan dy="-3" font-size="4.5">4</tspan></text>
<line x1="379.37" y1="373.0" x2="379.37" y2="370.0" stroke="#9a9a9a" stroke-width="0.7" />
<line x1="379.37" y1="247.5" x2="379.37" y2="250.5" stroke="#9a9a9a" stroke-width="0.7" />
<text x="379.87" y="382.9" font-size="6.5" text-anchor="middle" fill="#333">10<tspan dy="-3" font-size="4.5">5</tspan></text>
<line x1="460.53999999999996" y1="373.0" x2="460.53999999999996" y2="370.0" stroke="#9a9a9a" stroke-width="0.7" />
<line x1="460.53999999999996" y1="247.5" x2="460.53999999999996" y2="250.5" stroke="#9a9a9a" stroke-width="0.7" />
<text x="461.03999999999996" y="382.9" font-size="6.5" text-anchor="middle" fill="#333">10<tspan dy="-3" font-size="4.5">6</tspan></text>
<line x1="541.71" y1="373.0" x2="541.71" y2="370.0" stroke="#9a9a9a" stroke-width="0.7" />
<line x1="541.71" y1="247.5" x2="541.71" y2="250.5" stroke="#9a9a9a" stroke-width="0.7" />
<text x="542.21" y="382.9" font-size="6.5" text-anchor="middle" fill="#333">10<tspan dy="-3" font-size="4.5">7</tspan></text>
<text x="322.4" y="361.8" font-size="5.2" text-anchor="start" fill="#555" stroke="#555" stroke-width="0.12" >LGM</text>
<text x="369.0" y="397.2" font-size="11" fill="#333">Years(g=4,u=2.5×10<tspan dy="-3.6" font-size="5" dx="0.6">-8</tspan><tspan dy="3.6" dx="0.6">)</tspan></text>
<text x="278.8" y="308.8" font-size="10.2" text-anchor="middle" fill="#141414" stroke="#141414" stroke-width="0.12" transform="rotate(-90 278.8 308.8)">Effective population size (x10)</text>
<line x1="502.7" y1="346.3" x2="510.9" y2="346.3" stroke="#f08a8a" stroke-width="0.8" />
<text x="512.7" y="347.8" font-size="4.2" text-anchor="start" fill="#444" stroke="#444" stroke-width="0.12" >TBP</text>
<line x1="502.7" y1="353.0" x2="510.9" y2="353.0" stroke="#b8b8b8" stroke-width="0.8" />
<text x="512.7" y="354.5" font-size="4.2" text-anchor="start" fill="#444" stroke="#444" stroke-width="0.12" >Duroc</text>
<line x1="502.7" y1="360.9" x2="510.9" y2="360.9" stroke="#d0b0e0" stroke-width="0.8" />
<text x="512.7" y="362.4" font-size="4.2" text-anchor="start" fill="#444" stroke="#444" stroke-width="0.12" >YKX</text>
</g>
</svg></body></html>
